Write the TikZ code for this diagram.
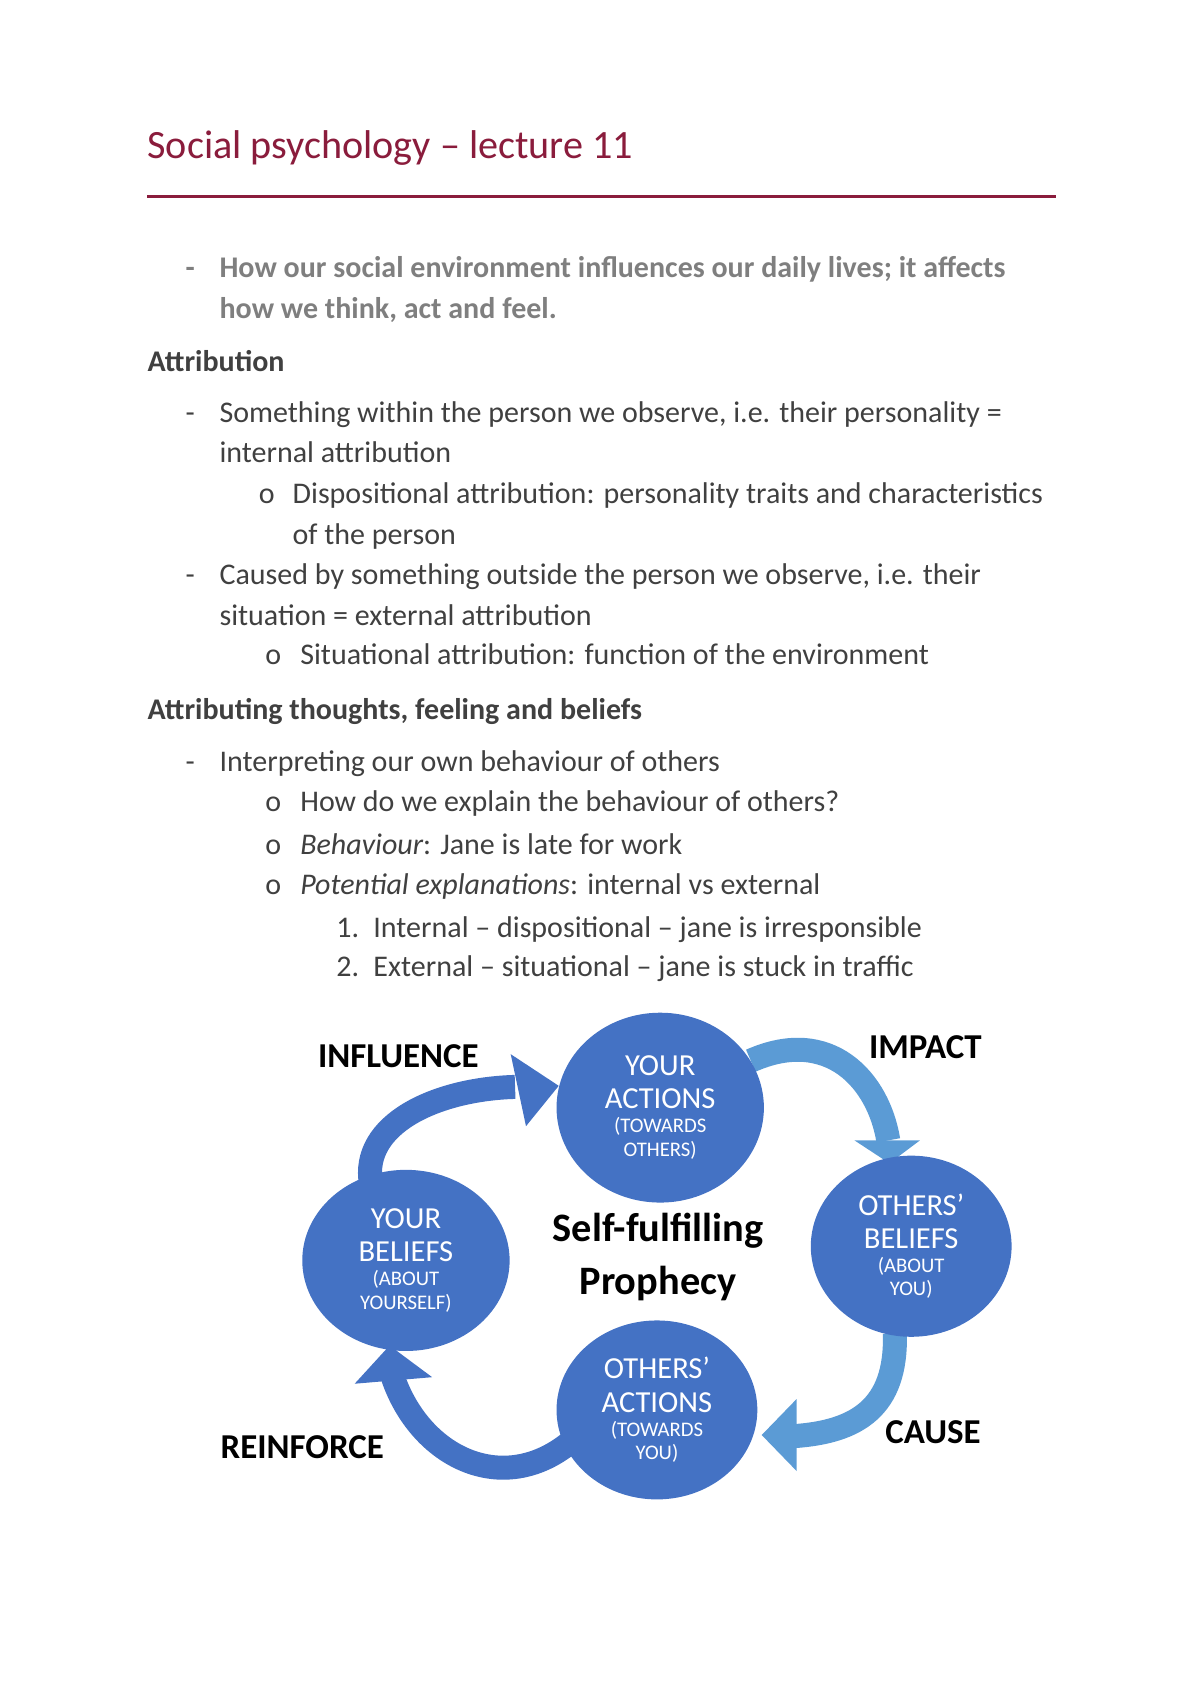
\documentclass[tikz,border=0pt]{standalone}
\usepackage{fontspec}
\usetikzlibrary{shapes.geometric}
\setmainfont{Carlito}
\definecolor{title}{HTML}{8A1C3C}
\definecolor{body}{HTML}{404040}
\definecolor{lead}{HTML}{7F7F7F}
\definecolor{circ}{HTML}{4472C4}
\definecolor{lblue}{HTML}{5B9BD5}
\newcommand{\bigf}{\fontsize{28}{34}\selectfont}
\newcommand{\smf}{\fontsize{19}{23}\selectfont}
\newcommand{\bubtext}[4]{\bigf #1\\[11pt]\bigf #2\\[7pt]\smf #3\\[4pt]\smf #4}
\begin{document}
\begin{tikzpicture}[x=1pt,y=-1pt,
  txt/.style={anchor=base west,inner sep=0,font=\fontsize{27.5}{30}\selectfont,text=body},
  bub/.style={ellipse,fill=circ,text=white,align=center,inner sep=0},
  lab/.style={font=\fontsize{32}{36}\selectfont\bfseries,text=black},
  arr/.style={line width=22pt,draw=circ},
  head/.style={fill=circ}]
\useasboundingbox (0,0) rectangle (1100,1556);
\node[anchor=base west,inner sep=0,font=\fontsize{36.8}{40}\selectfont,text=title] (t) at (135,145) {Social psychology – lecture 11};
\draw[title,line width=3pt] (135,180) coordinate (r1) -- (968,180) coordinate (r2);
% bullet text
\node[txt,text=lead] (d1) at (170,254) {\bfseries -};
\node[txt,text=lead] (l1) at (201,254) {\bfseries How our social environment influences our daily lives; it affects};
\node[txt,text=lead] (l2) at (201,292) {\bfseries how we think, act and feel.};
\node[txt] (h1) at (135,340) {\bfseries Attribution};
\node[txt] (d2) at (170,387) {-};
\node[txt] (l3) at (201,387) {Something within the person we observe, i.e. their personality =};
\node[txt] (l4) at (201,424) {internal attribution};
\node[txt] (o1) at (237,461) {o};
\node[txt] (l5) at (268,461) {Dispositional attribution: personality traits and characteristics};
\node[txt] (l6) at (268,499) {of the person};
\node[txt] (d3) at (170,536) {-};
\node[txt] (l7) at (201,536) {Caused by something outside the person we observe, i.e. their};
\node[txt] (l8) at (201,573) {situation = external attribution};
\node[txt] (o2) at (243,609) {o};
\node[txt] (l9) at (275,609) {Situational attribution: function of the environment};
\node[txt] (h2) at (135,659) {\bfseries Attributing thoughts, feeling and beliefs};
\node[txt] (d4) at (170,707) {-};
\node[txt] (l10) at (201,707) {Interpreting our own behaviour of others};
\node[txt] (o3) at (243,744) {o};
\node[txt] (l11) at (275,744) {How do we explain the behaviour of others?};
\node[txt] (o4) at (243,783) {o};
\node[txt] (l12) at (275,783) {\itshape Behaviour\upshape: Jane is late for work};
\node[txt] (o5) at (243,820) {o};
\node[txt] (l13) at (275,820) {\itshape Potential explanations\upshape: internal vs external};
\node[txt] (n1) at (308,859) {1.};
\node[txt] (l14) at (342,859) {Internal – dispositional – jane is irresponsible};
\node[txt] (n2) at (308,895) {2.};
\node[txt] (l15) at (342,895) {External – situational – jane is stuck in traffic};
% arrows
\draw[arr] (340,1085) .. controls (330,1030) and (400,998) .. (472,996);
\fill[head] (468,966) -- (512,995) -- (482,1032) -- cycle;
\draw[arr,draw=lblue] (688,972) .. controls (760,940) and (805,990) .. (814,1045);
\fill[head,fill=lblue] (783,1045) -- (843,1045) -- (815,1066) -- cycle;
\draw[arr,draw=lblue] (820,1222) .. controls (822,1290) and (785,1312) .. (728,1316);
\fill[head,fill=lblue] (730,1282) -- (698,1315) -- (730,1348) -- cycle;
\draw[arr] (522,1322) .. controls (460,1372) and (385,1335) .. (360,1262);
\fill[head] (325,1268) -- (357,1233) -- (396,1262) -- cycle;
% circles
\node[bub,minimum width=190pt,minimum height=174pt] (ya) at (605,1015) {\bubtext{YOUR}{ACTIONS}{(TOWARDS}{OTHERS)}};
\node[bub,minimum width=184pt,minimum height=166pt] (ob) at (835,1142) {\bubtext{OTHERS’}{BELIEFS}{(ABOUT}{YOU)}};
\node[bub,minimum width=184pt,minimum height=164pt] (oa) at (602,1292) {\bubtext{OTHERS’}{ACTIONS}{(TOWARDS}{YOU)}};
\node[bub,minimum width=190pt,minimum height=166pt] (yb) at (372,1155) {\bubtext{YOUR}{BELIEFS}{(ABOUT}{YOURSELF)}};
% labels
\node[lab] (li) at (365,968) {INFLUENCE};
\node[lab] (lm) at (848,960) {IMPACT};
\node[lab] (lc) at (855,1312) {CAUSE};
\node[lab] (lr) at (277,1326) {REINFORCE};
\node[align=center,font=\fontsize{37}{48}\selectfont\bfseries] (sf) at (603,1152) {Self-fulfilling\\Prophecy};
\end{tikzpicture}
\end{document}
